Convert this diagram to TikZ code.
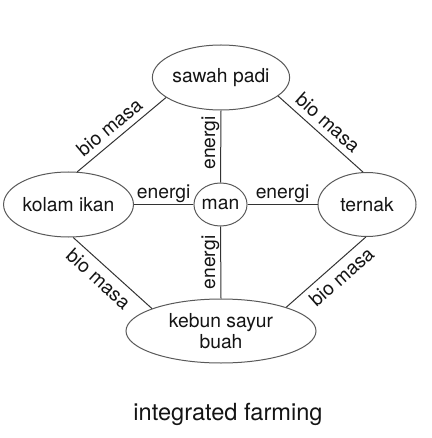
\documentclass[tikz,border=0pt]{standalone}
\usepackage{fontspec}
\setmainfont{TeX Gyre Heros}
\usetikzlibrary{shapes.geometric}
\begin{document}
\begin{tikzpicture}[x=1pt,y=1pt,
  every node/.style={font=\fontsize{19.3}{21}\selectfont, text=black!92},
  place/.style={ellipse, draw=black!65, line width=1pt, inner sep=0pt, align=center},
  link/.style={draw=black!80, line width=1pt},
  lab/.style={inner sep=1pt},
  title/.style={font=\fontsize{23.6}{26}\selectfont}
]
\useasboundingbox (0,0) rectangle (431,-438);
\node[place, minimum width=128pt, minimum height=65pt] (sawah) at (221,-77.5) {sawah padi};
\node[place, minimum width=105pt, minimum height=65pt] (kolam) at (68.5,-204.5) {kolam ikan};
\node[place, minimum width=51pt, minimum height=43pt] (man) at (220.5,-204.5) {man};
\node[place, minimum width=98pt, minimum height=64pt] (ternak) at (367,-204.5) {ternak};
\node[place, minimum width=190pt, minimum height=64pt] (kebun) at (221,-331) {kebun sayur\\buah};
\node[title, anchor=base] (ttl) at (228,-420) {integrated farming};

\draw[link] (sawah.200) -- node[lab, pos=0.54, sloped, above=5pt] {bio masa} (kolam.75);
\draw[link] (sawah.342) -- node[lab, pos=0.48, sloped, above=5pt] {bio masa} (ternak.97);
\draw[link] (kolam.278) -- node[lab, pos=0.44, sloped, below=5pt] {bio masa} (kebun.162);
\draw[link] (ternak.268) -- node[lab, pos=0.42, sloped, below=5pt] {bio masa} (kebun.20.6);
\draw[link] (sawah.south) -- node[lab, pos=0.45, rotate=90, anchor=south] {energi} (man.north);
\draw[link] (man.south) -- node[lab, midway, rotate=90, anchor=south] {energi} (kebun.north);
\draw[link] (kolam) -- node[lab, midway, above] {energi} (man);
\draw[link] (man) -- node[lab, midway, above] {energi} (ternak);
\end{tikzpicture}
\end{document}
